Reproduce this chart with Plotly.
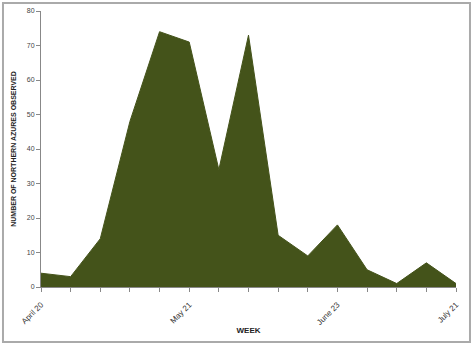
import plotly.graph_objects as go

weeks = list(range(15))
counts = [4, 3, 14, 48, 74, 71, 34, 73, 15, 9, 18, 5, 1, 7, 1]
tick_labels = ["April 20", "", "", "", "", "May 21", "", "", "", "", "June 23", "", "", "", "July 21"]

fig = go.Figure()
fig.add_trace(go.Scatter(
    x=weeks, y=counts, mode="lines", fill="tozeroy",
    line=dict(color="#44531a", width=1), fillcolor="#44531a",
    hoverinfo="skip", showlegend=False,
))

font = "Liberation Sans"
fig.update_layout(
    width=474, height=346,
    margin=dict(l=41, r=18, t=11, b=59),
    paper_bgcolor="white", plot_bgcolor="white",
    font=dict(family=font, size=7, color="#444"),
    xaxis=dict(
        range=[0, 14], tickmode="array", tickvals=weeks, ticktext=tick_labels,
        tickangle=-45, ticks="outside", ticklen=4, tickcolor="#888",
        ticklabelstandoff=5, automargin=False,
        showline=True, linecolor="#888", linewidth=1, showgrid=False, zeroline=False,
        tickfont=dict(size=8, color="#333"),
        title=dict(text="<b>WEEK</b>", font=dict(size=8, color="#222"), standoff=1),
    ),
    yaxis=dict(
        range=[0, 80], dtick=10, ticks="outside", ticklen=4, tickcolor="#888",
        showline=True, linecolor="#888", linewidth=1, showgrid=False, zeroline=False,
        automargin=False,
        tickfont=dict(size=7, color="#444"),
        title=dict(text="<b>NUMBER OF NORTHERN AZURES OBSERVED</b>", font=dict(size=7, color="#222"), standoff=9),
    ),
    shapes=[dict(
        type="rect", xref="paper", yref="paper",
        x0=-0.0916, x1=1.0337, y0=-0.199, y1=1.029,
        line=dict(color="#aaa", width=2), fillcolor="rgba(0,0,0,0)", layer="below",
    )],
)

fig.write_html("out.html")
